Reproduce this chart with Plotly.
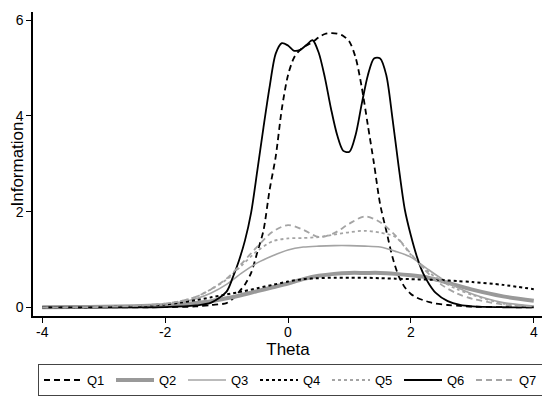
import plotly.graph_objects as go

# theta grid for the smooth items
theta_wide = [-4, -3.5, -3, -2.5, -2, -1.75, -1.5, -1.25, -1, -0.75, -0.5, -0.25, 0,
              0.25, 0.5, 0.75, 1, 1.25, 1.5, 1.75, 2, 2.25, 2.5, 2.75, 3, 3.5, 4]

# finer grid for the two peaked items (Q1, Q6)
theta_fine = [-4, -3, -2, -1.5, -1.25, -1.0, -0.9, -0.8, -0.7, -0.6, -0.5, -0.4, -0.3,
              -0.2, -0.1, 0.0, 0.1, 0.2, 0.3, 0.4, 0.5, 0.6, 0.7, 0.8, 0.9, 1.0, 1.1,
              1.2, 1.3, 1.4, 1.5, 1.6, 1.7, 1.8, 1.9, 2.0, 2.1, 2.2, 2.3, 2.4, 2.6,
              2.8, 3.0, 3.5, 4.0]

q1 = [0.0, 0.0, 0.005, 0.02, 0.05, 0.09, 0.18, 0.32, 0.48, 0.72, 1.15, 1.6, 2.45,
      3.15, 4.15, 4.85, 5.22, 5.38, 5.47, 5.54, 5.64, 5.71, 5.73, 5.72, 5.67, 5.55, 5.22,
      4.6, 3.8, 3.0, 2.15, 1.6, 1.05, 0.66, 0.42, 0.28, 0.2, 0.15, 0.11, 0.08, 0.05,
      0.03, 0.015, 0.005, 0.0]

q6 = [0.0, 0.0, 0.005, 0.04, 0.1, 0.33, 0.62, 0.97, 1.4, 1.98, 2.85, 3.75, 4.6,
      5.3, 5.52, 5.47, 5.36, 5.38, 5.48, 5.58, 5.32, 4.8, 4.15, 3.6, 3.27, 3.25, 3.6,
      4.25, 4.85, 5.2, 5.2, 4.85, 3.95, 2.95, 2.05, 1.5, 1.05, 0.71, 0.48, 0.31, 0.13,
      0.05, 0.02, 0.003, 0.0]

q2 = [0.003, 0.006, 0.012, 0.025, 0.045, 0.06, 0.09, 0.13, 0.19, 0.26, 0.34, 0.42, 0.5,
      0.59, 0.66, 0.7, 0.72, 0.72, 0.72, 0.7, 0.67, 0.63, 0.55, 0.46, 0.37, 0.23, 0.14]

q3 = [0.001, 0.003, 0.008, 0.02, 0.07, 0.11, 0.18, 0.3, 0.48, 0.72, 0.93, 1.08, 1.2,
      1.26, 1.28, 1.29, 1.29, 1.28, 1.26, 1.17, 1.05, 0.82, 0.6, 0.42, 0.28, 0.1, 0.03]

q4 = [0.001, 0.003, 0.008, 0.02, 0.06, 0.1, 0.15, 0.21, 0.27, 0.33, 0.4, 0.47, 0.54,
      0.59, 0.61, 0.62, 0.62, 0.62, 0.61, 0.6, 0.59, 0.58, 0.57, 0.55, 0.53, 0.47, 0.38]

q5 = [0.001, 0.003, 0.01, 0.03, 0.08, 0.13, 0.22, 0.38, 0.58, 0.88, 1.18, 1.38, 1.44,
      1.45, 1.47, 1.52, 1.57, 1.6, 1.56, 1.47, 1.1, 0.78, 0.55, 0.38, 0.26, 0.08, 0.02]

q7 = [0.001, 0.003, 0.01, 0.03, 0.08, 0.13, 0.22, 0.38, 0.6, 0.92, 1.27, 1.58, 1.72,
      1.62, 1.47, 1.55, 1.75, 1.9, 1.78, 1.5, 1.12, 0.75, 0.47, 0.29, 0.18, 0.06, 0.02]

x_ticks = [-4, -2, 0, 2, 4]
x_tick_text = ["-4", "-2", "0", "2", "4"]
y_ticks = [0, 2, 4, 6]

GRAY = "#a4a4a4"

series = [
    ("Q1", theta_fine, q1, dict(color="black", width=1.8, dash="6px,4px")),
    ("Q2", theta_wide, q2, dict(color="#999999", width=4)),
    ("Q3", theta_wide, q3, dict(color=GRAY, width=1.6)),
    ("Q4", theta_wide, q4, dict(color="black", width=2, dash="dot")),
    ("Q5", theta_wide, q5, dict(color=GRAY, width=1.8, dash="dot")),
    ("Q6", theta_fine, q6, dict(color="black", width=1.8)),
    ("Q7", theta_wide, q7, dict(color=GRAY, width=1.8, dash="6px,4px")),
]

fig = go.Figure()

for name, xs, ys, line in series:
    fig.add_trace(go.Scatter(
        x=xs, y=ys, name=name, mode="lines",
        line=dict(shape="spline", smoothing=0.8, **line),
    ))

# page body adds an 8px offset, so the figure is a bit smaller than the window
fig.update_layout(
    template="none",
    width=542, height=393,
    margin=dict(l=25, r=7, t=4, b=85, autoexpand=False),
    paper_bgcolor="white", plot_bgcolor="white",
    font=dict(family="Liberation Sans, Arial, sans-serif", size=14, color="black"),
    showlegend=True,
    legend=dict(
        orientation="h",
        x=0.0098, xanchor="left",
        y=-0.158, yanchor="top",
        bordercolor="#444444", borderwidth=1,
        bgcolor="white",
        font=dict(size=13),
        itemwidth=38,
        entrywidth=19,
        entrywidthmode="pixels",
    ),
)

fig.update_xaxes(
    range=[-4.15, 4.15],
    tickvals=x_ticks, ticktext=x_tick_text,
    showline=True, linecolor="black", linewidth=1.5,
    ticks="outside", ticklen=5, tickcolor="black",
    ticklabelstandoff=-3,
    showgrid=False, zeroline=False, automargin=True,
    title=dict(text="Theta", standoff=0),
)

fig.update_yaxes(
    range=[-0.18, 6.17],
    tickvals=y_ticks,
    showline=True, linecolor="black", linewidth=1.5,
    ticks="outside", ticklen=5, tickcolor="black",
    showgrid=False, zeroline=False, automargin=True,
    title=dict(text="Information", standoff=9),
)

fig.write_html("out.html")
